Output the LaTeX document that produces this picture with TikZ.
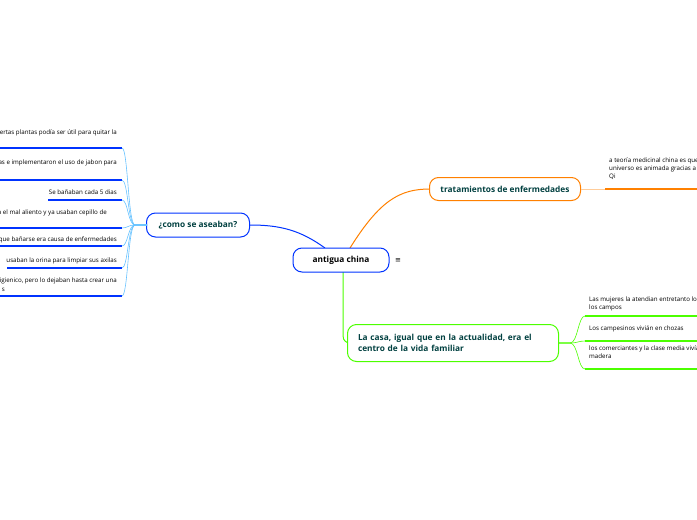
\documentclass[tikz,border=0pt]{standalone}
\usepackage{fontspec}
\setmainfont{Open Sans}
\newfontfamily\djv{DejaVu Sans}
\begin{document}
\begin{tikzpicture}[x=1pt,y=-1pt,
  leaf/.style={font=\fontsize{6.2}{8}\selectfont,inner sep=1pt,align=left},
  bl/.style={draw=blue!80!cyan,line width=1.6pt},
  bthin/.style={draw=blue!40!cyan!60,line width=0.6pt},
  mainbox/.style={rounded corners=9pt,line width=1pt,fill=white,font=\bfseries\fontsize{8.3}{10.5}\selectfont,text=teal!50!black},
  gl/.style={draw=green!60!lime,line width=1.6pt},
  ol/.style={draw=orange,line width=1.6pt}]
\useasboundingbox (0,0) rectangle (697,520);
\coordinate (cb) at (325,248);
\draw[blue!80!cyan,line width=1pt] (cb) .. controls (300,230) and (280,225) .. (250,225);
\draw[orange,line width=1pt] (350,248) .. controls (380,200) and (400,189) .. (430,189);
\draw[green!60!lime,line width=1pt] (343,272) -- (343,330) .. controls (343,340) .. (348,343);
\node[mainbox,draw=blue!80!cyan,minimum width=96pt,minimum height=24pt,text=black] (c) at (341,260) {antigua china};
\node[font=\djv\fontsize{7}{8}\selectfont] (menu) at (398,261) {≡};
\node[mainbox,draw=blue!80!cyan,minimum width=103pt,minimum height=24pt] (b) at (198,225) {¿como se aseaban?};
\foreach \y/\x in {148/0,180/0,200/48,228/0,246/0,268/7,296/0}{
  \draw[bl] (\x,\y) -- (122,\y);
  \draw[bthin] (147,225) -- (135,225) .. controls (128,225) and (128,\y) .. (122,\y);
}
\node[leaf,anchor=east] (l1) at (118,133) {ciertas plantas podía ser útil para quitar la};
\node[leaf,anchor=east] (l2) at (118,163) {eas e implementaron el uso de jabon para};
\node[leaf,anchor=east] (l3) at (118,192) {Se bañaban cada 5 dias};
\node[leaf,anchor=east] (l4) at (108,213) {ra el mal aliento y ya usaban cepillo de};
\node[leaf,anchor=east] (l5) at (118,240) {n que bañarse era causa de enfermedades};
\node[leaf,anchor=east] (l6) at (118,261) {usaban la orina para limpiar sus axilas};
\node[leaf,anchor=east] (l7) at (118,281) {igienico, pero lo dejaban hasta crear una};
\node[leaf,anchor=east] (l7b) at (6,290) {s};
\node[mainbox,draw=orange,minimum width=151pt,minimum height=23pt] (o) at (505,189) {tratamientos de enfermedades};
\draw[orange!40,line width=1pt] (o.east) -- (605,189);
\draw[ol] (605,189) -- (697,189);
\node[leaf,anchor=north west] (ot) at (608,157) {a teoría medicinal china es que\\universo es animada gracias a\\Qi};
\node[mainbox,draw=green!60!lime,minimum width=211pt,minimum height=37pt,text width=190pt,align=left] (g) at (453,343) {La casa, igual que en la actualidad, era el\\centro de la vida familiar};
\foreach \y in {316,341,369}{
  \draw[gl] (585,\y) -- (697,\y);
  \draw[green!60!lime,line width=0.6pt] (g.east) -- (570,343) .. controls (578,343) and (578,\y) .. (585,\y);
}
\node[leaf,anchor=north west] (g1) at (588,296) {Las mujeres la atendian entretanto los\\los campos};
\node[leaf,anchor=north west] (g2) at (588,325) {Los campesinos vivián en chozas};
\node[leaf,anchor=north west] (g3) at (588,345) {los comerciantes y la clase media vivía\\madera};
\end{tikzpicture}
\end{document}
